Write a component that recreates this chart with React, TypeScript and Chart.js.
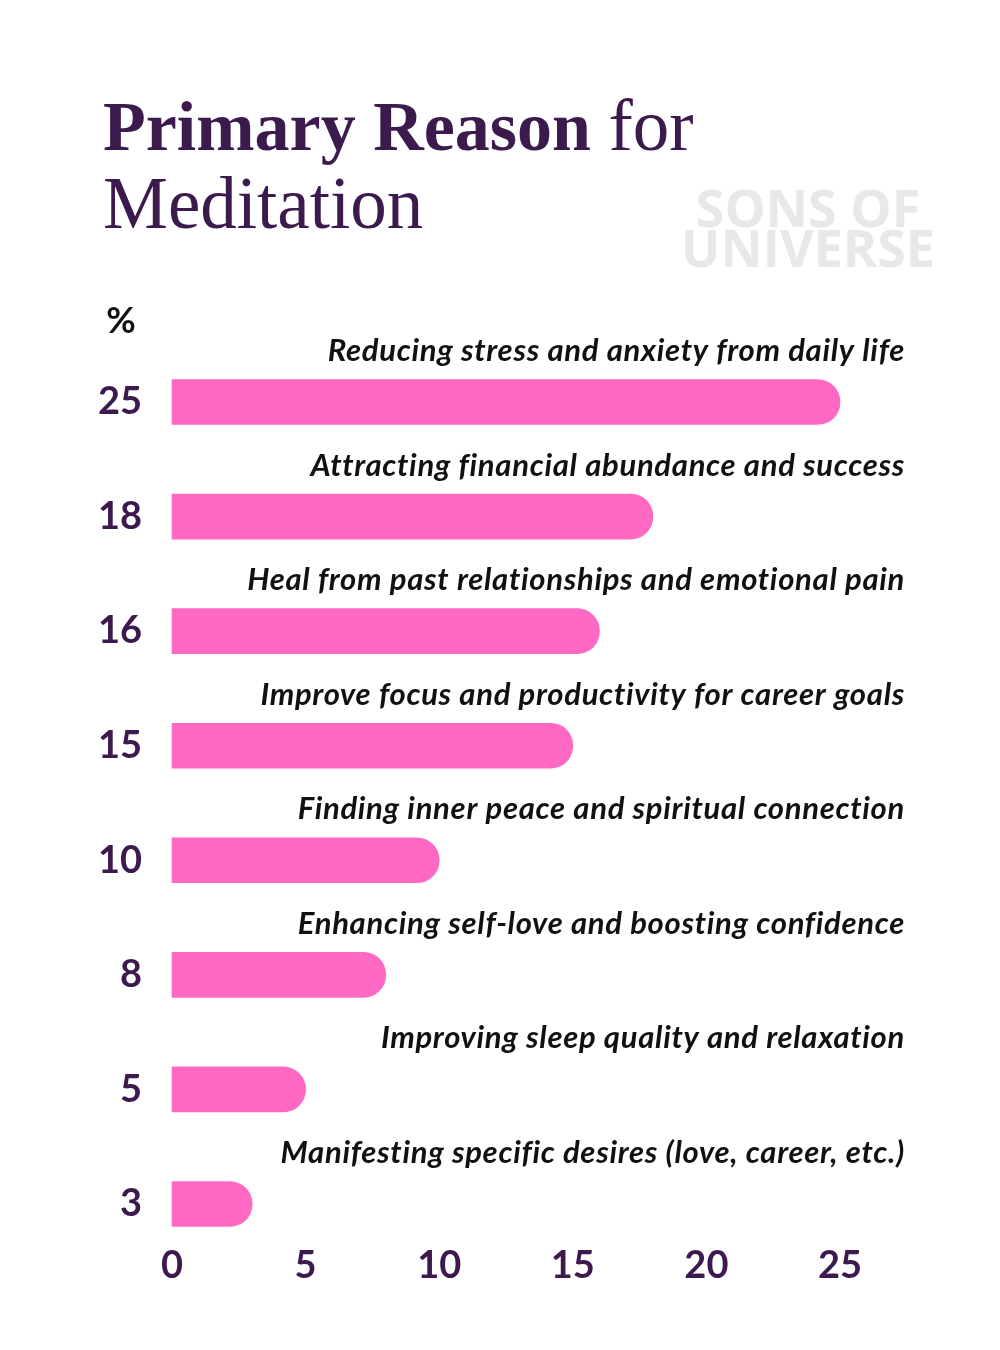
import React, { useEffect, useRef } from 'react';
import { Chart, registerables } from 'chart.js';

Chart.register(...registerables);

const categories = [
  'Reducing stress and anxiety from daily life',
  'Attracting financial abundance and success',
  'Heal from past relationships and emotional pain',
  'Improve focus and productivity for career goals',
  'Finding inner peace and spiritual connection',
  'Enhancing self-love and boosting confidence',
  'Improving sleep quality and relaxation',
  'Manifesting specific desires (love, career, etc.)',
];
const values = [25, 18, 16, 15, 10, 8, 5, 3];
const xTickValues = [0, 5, 10, 15, 20, 25];
const titleBold = 'Primary Reason ';
const titleRegular = 'for';
const titleLine2 = 'Meditation';
const watermarkLines = ['SONS OF', 'UNIVERSE'];
const unitLabel = '%';

const PURPLE = '#3C1A4D';
const PINK = '#FF69C4';

export default function App() {
  const ref = useRef<HTMLCanvasElement | null>(null);

  useEffect(() => {
    if (!ref.current) return;
    const decor = {
      id: 'decor',
      afterDraw(chart: any) {
        const ctx = chart.ctx as CanvasRenderingContext2D;
        ctx.save();
        // title
        ctx.fillStyle = PURPLE;
        ctx.textAlign = 'left';
        ctx.textBaseline = 'alphabetic';
        ctx.font = 'bold 70px "Liberation Serif"';
        ctx.fillText(titleBold, 103, 150);
        const w = ctx.measureText(titleBold).width;
        ctx.font = '73px "Liberation Serif"';
        ctx.fillText(titleRegular, 103 + w, 150);
        ctx.fillText(titleLine2, 103, 228);
        // watermark
        ctx.fillStyle = '#E8E8E8';
        ctx.textAlign = 'center';
        ctx.font = 'bold 52px "Open Sans"';
        ctx.fillText(watermarkLines[0], 808, 227);
        ctx.fillText(watermarkLines[1], 808, 267);
        // unit
        ctx.fillStyle = '#111111';
        ctx.font = 'bold 36px Lato';
        ctx.textBaseline = 'middle';
        ctx.fillText(unitLabel, 121, 321);
        // category labels
        const yScale = chart.scales.y;
        ctx.textAlign = 'right';
        ctx.font = 'italic bold 31px Lato';
        (ctx as any).letterSpacing = '0.7px';
        ctx.fillStyle = '#111111';
        categories.forEach((c, i) => {
          const y = yScale.getPixelForTick(i);
          ctx.fillText(c, 905, y - 51);
        });
        ctx.restore();
      },
    };

    const chart = new Chart(ref.current, {
      type: 'bar',
      data: {
        labels: categories,
        datasets: [
          {
            data: values,
            backgroundColor: PINK,
            borderRadius: 23,
            borderSkipped: 'start',
            barThickness: 45,
            clip: false,
          },
        ],
      },
      options: {
        indexAxis: 'y',
        responsive: false,
        animation: false,
        devicePixelRatio: 1,
        layout: { padding: { top: 402, bottom: 46, right: 160, left: 0 } },
        plugins: { legend: { display: false }, tooltip: { enabled: false } },
        scales: {
          x: {
            min: 0,
            max: 25,
            afterBuildTicks: (scale: any) => {
              scale.ticks = xTickValues.map((v) => ({ value: v }));
            },
            afterFit: (scale: any) => {
              scale.height = 100;
            },
            grid: { display: false, drawTicks: false },
            border: { display: false },
            ticks: {
              padding: 39,
              autoSkip: false,
              color: PURPLE,
              font: { family: 'Lato', size: 38, weight: 'bold' },
              maxRotation: 0,
              minRotation: 0,
            },
          },
          y: {
            offset: false,
            afterFit: (scale: any) => {
              scale.width = 172;
            },
            grid: { display: false, drawTicks: false },
            border: { display: false },
            ticks: {
              padding: 30,
              color: PURPLE,
              font: { family: 'Lato', size: 38, weight: 'bold' },
              callback: (_v: any, i: number) => String(values[i]),
            },
          },
        },
      },
      plugins: [decor],
    });
    return () => chart.destroy();
  }, []);

  return (
    <div style={{ position: 'absolute', left: 0, top: 0, width: 1000, height: 1350, background: '#fff' }}>
      <canvas ref={ref} width={1000} height={1350} style={{ display: 'block' }} />
    </div>
  );
}
